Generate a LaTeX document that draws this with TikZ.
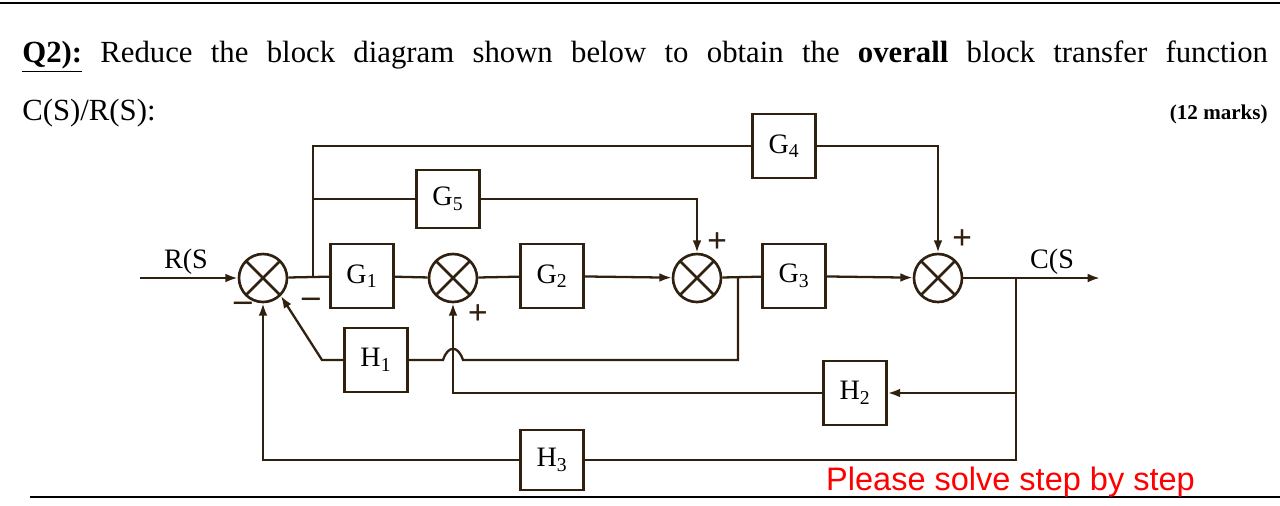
\documentclass[tikz,border=0pt]{standalone}
\usepackage{fontspec}
\setmainfont{Liberation Serif}
\newfontfamily\redfont{Liberation Sans}
\usetikzlibrary{arrows.meta}
\begin{document}
\begin{tikzpicture}[x=0.02cm,y=-0.02cm,
  ln/.style={draw=black!75!brown, line width=1.3pt},
  arr/.style={ln,-{Latex[length=7pt,width=5pt]}},
  blk/.style={draw=black!75!brown, line width=1.5pt, minimum width=63*0.02cm, minimum height=64*0.02cm, font=\fontsize{16}{18}\selectfont, inner sep=0pt},
  sumj/.style={draw=black!75!brown, line width=1.5pt, circle, minimum size=48*0.02cm, inner sep=0pt,
    path picture={\draw[black!75!brown,line width=1.5pt] (path picture bounding box.south west)--(path picture bounding box.north east) (path picture bounding box.north west)--(path picture bounding box.south east);}},
  sg/.style={font=\bfseries\fontsize{20}{20}\selectfont, text=black!75!brown}]
\useasboundingbox (0,0) rectangle (1280,505);
\draw[line width=0.8pt] (0,3) -- (1280,3);
\draw[line width=1pt] (30,497) -- (1280,497);
% title
\node[anchor=base west, inner sep=0pt] (t1) at (22,62) {\fontsize{17.5}{20}\selectfont\hbox to 709pt{\underline{\textbf{Q2):}}\hfill Reduce\hfill the\hfill block\hfill diagram\hfill shown\hfill below\hfill to\hfill obtain\hfill the\hfill \textbf{overall}\hfill block\hfill transfer\hfill function}};
\node[anchor=base west, inner sep=0pt] (t2) at (22,120) {\fontsize{17.5}{20}\selectfont C(S)/R(S):};
\node[anchor=base east, inner sep=0pt] (t3) at (1268,119) {\fontsize{12}{14}\selectfont\textbf{(12 marks)}};
% junctions
\node[sumj] (s1) at (263,278) {};
\node[sumj] (s2) at (453,278) {};
\node[sumj] (s3) at (697,278) {};
\node[sumj] (s4) at (938,278) {};
% blocks
\node[blk] (g1) at (362,276) {G\textsubscript{1}};
\node[blk] (g2) at (552,276) {G\textsubscript{2}};
\node[blk] (g3) at (794,276) {G\textsubscript{3}};
\node[blk] (g4) at (784,146) {G\textsubscript{4}};
\node[blk, minimum height=58*0.02cm] (g5) at (448,199) {G\textsubscript{5}};
\node[blk] (h1) at (376,360) {H\textsubscript{1}};
\node[blk] (h2) at (855,393) {H\textsubscript{2}};
\node[blk, minimum height=60*0.02cm] (h3) at (552,460) {H\textsubscript{3}};
% coordinates
\coordinate (rin) at (140,278);
\coordinate (cout) at (1100,278);
\coordinate (b1) at (313,278);
\coordinate (b3) at (738,278);
\coordinate (bc) at (1016,278);
\node[font=\fontsize{16}{18}\selectfont] (rl) at (186,262) {R(S};
\node[font=\fontsize{16}{18}\selectfont] (cl) at (1052,262) {C(S};
% forward
\draw[arr] (rin) -- (s1);
\draw[ln] (s1) -- (g1);
\draw[ln] (g1) -- (s2);
\draw[ln] (s2) -- (g2);
\draw[arr] (g2) -- (s3);
\draw[ln] (s3) -- (g3);
\draw[arr] (g3) -- (s4);
\draw[arr] (s4) -- (cout);
% feedforward
\draw[ln] (b1) |- (g4.west);
\draw[arr] (g4.east) -| (s4.north);
\draw[ln] (313,199) -- (g5.west);
\draw[arr] (g5.east) -| (s3.north);
% H1 loop with hop
\draw[ln] (b3) |- (463,360) .. controls (458,345) and (448,345) .. (443,360) -- (h1.east);
\draw[arr] (h1.west) -- (322,360) -- (s1.south east);
% H2 loop
\draw[arr] (bc) |- (h2.east);
\draw[arr] (h2.west) -| (s2.south);
% H3 loop
\draw[ln] (bc) |- (h3.east);
\draw[arr] (h3.west) -| (s1.south);
% signs
\node[sg] (m1) at (243,307) {--};
\node[sg] (m2) at (311,303) {--};
\node[sg] (p2) at (478,315) {+};
\node[sg] (p3) at (717,243) {+};
\node[sg] (p4) at (962,240) {+};
\node[anchor=west, text=red, font=\redfont\fontsize{18.5}{20}\selectfont] (note) at (820,482) {Please solve step by step};
\end{tikzpicture}
\end{document}
